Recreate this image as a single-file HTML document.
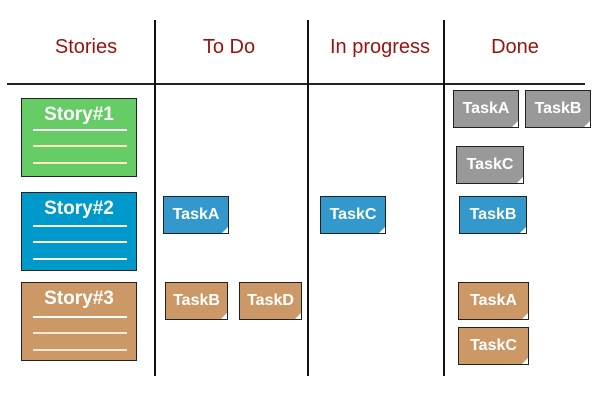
<!DOCTYPE html>
<html><head><style>
body{margin:0;width:600px;height:400px;background:#fff;position:relative;overflow:hidden;font-family:"Liberation Sans",sans-serif}
.h{position:absolute;top:36px;color:#9b1111;font-size:20px;transform:translateX(-50%);white-space:nowrap}
.v{position:absolute;top:20px;width:2px;height:356px;background:#111}
.s{position:absolute;left:21px;width:114px;height:77px;border:1.5px solid #222;box-sizing:content-box}
.s .t{position:absolute;top:5px;width:100%;text-align:center;color:#fff;font-weight:bold;font-size:19px}
.s i{position:absolute;left:11px;width:94px;height:2px;background:#fff}
.k{position:absolute;width:64px;height:36px;border:1.5px solid #222;color:#fff;font-size:16px;font-weight:bold;line-height:36px;text-align:center}
.k:after{content:"";position:absolute;right:0;bottom:0;border-style:solid;border-width:0 0 6px 6px;border-color:transparent transparent #fff transparent}
.b{background:#3399cc}.g{background:#999}.n{background:#cc9966}
</style></head><body>
<div class="h" style="left:86px">Stories</div>
<div class="h" style="left:229px">To Do</div>
<div class="h" style="left:380px">In progress</div>
<div class="h" style="left:515px">Done</div>
<div style="position:absolute;left:7px;top:83px;width:578px;height:2px;background:#222"></div>
<div class="v" style="left:154px"></div>
<div class="v" style="left:307px"></div>
<div class="v" style="left:443px"></div>

<div class="s" style="top:98px;background:#66cc66"><div class="t">Story#1</div><i style="top:30px"></i><i style="top:46px;background:#ffe8c0"></i><i style="top:63px;background:#ffe8c0"></i></div>
<div class="s" style="top:192px;background:#0099cc"><div class="t">Story#2</div><i style="top:32px"></i><i style="top:48px"></i><i style="top:65px"></i></div>
<div class="s" style="top:282px;background:#cc9966"><div class="t">Story#3</div><i style="top:33px"></i><i style="top:49px;background:#ffe8d0"></i><i style="top:66px;background:#ffe8d0"></i></div>

<div class="k b" style="left:163px;top:196px">TaskA</div>
<div class="k n" style="left:165px;top:282px;width:61px">TaskB</div>
<div class="k n" style="left:239px;top:282px;width:61px">TaskD</div>
<div class="k b" style="left:320px;top:196px">TaskC</div>
<div class="k g" style="left:453px;top:90px">TaskA</div>
<div class="k g" style="left:525px;top:90px">TaskB</div>
<div class="k g" style="left:456px;top:146px;width:66px">TaskC</div>
<div class="k b" style="left:459px;top:196px;width:66px">TaskB</div>
<div class="k n" style="left:458px;top:282px;width:69px">TaskA</div>
<div class="k n" style="left:458px;top:327px;width:69px">TaskC</div>
</body></html>
